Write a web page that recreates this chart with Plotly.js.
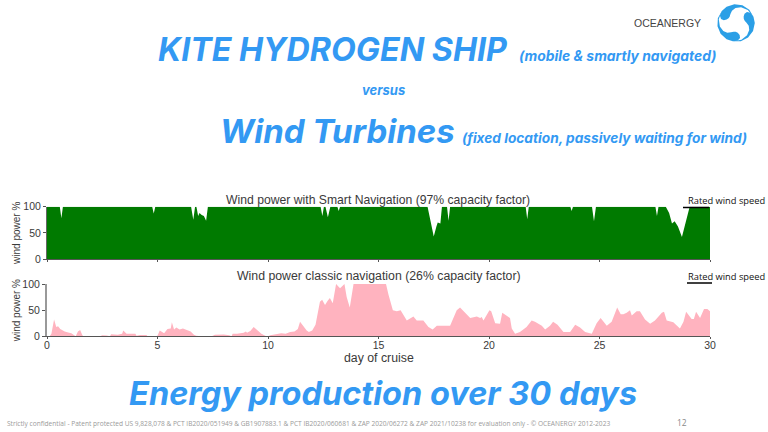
<!DOCTYPE html>
<html>
<head>
<meta charset="utf-8">
<script src="https://cdn.plot.ly/plotly-3.0.1.min.js"></script>
<style>html,body{margin:0;padding:0;background:#fff}#c{width:768px;height:432px}</style>
</head>
<body>
<div id="c"></div>
<script>
const greenDays = [0,0.58,0.65,0.72,4.76,4.83,4.9,6.52,6.62,6.7,6.76,6.84,6.9,7.0,7.1,7.2,7.28,12.38,12.46,12.53,12.6,12.71,12.82,13.14,13.2,13.26,17.22,17.35,17.5,17.62,17.68,17.8,17.87,18.1,18.17,18.24,21.66,21.73,21.8,23.68,23.74,23.8,24.66,24.75,24.84,27.53,27.6,27.67,27.75,28.0,28.15,28.28,28.4,28.55,28.73,28.88,29.0,29.08,30];
const greenPower = [100,100,78,100,100,87,100,100,75,100,100,82,88,84,82,73,100,100,82,100,100,80,100,100,92,100,100,72,43,62,70,68,100,100,73,100,100,76,100,100,92,100,100,72,100,100,82,100,100,100,88,68,72,62,42,68,90,100,100];
const pinkDays = [0,0.12,0.2,0.32,0.42,0.5,0.6,0.8,1,1.1,1.2,1.3,1.4,1.5,1.6,1.65,2.4,2.5,2.7,2.8,2.85,2.9,3.2,3.4,3.45,3.6,3.9,4,4.05,4.2,4.5,4.55,4.9,5,5.1,5.3,5.45,5.6,5.65,5.75,5.85,6,6.15,6.3,6.5,6.65,6.75,7,7.45,7.6,8,8.25,8.35,8.4,8.6,8.9,9,9.05,9.2,9.35,9.5,9.7,9.9,10,10.1,10.3,10.6,10.8,11,11.2,11.35,11.45,11.6,11.75,11.85,12,12.15,12.35,12.45,12.58,12.7,12.8,12.93,13.08,13.26,13.46,13.56,13.7,13.87,15.34,15.45,15.65,15.83,16,16.28,16.58,16.73,17.03,17.26,17.45,17.64,18.24,18.54,18.69,18.92,19.15,19.45,19.6,19.67,19.75,20.02,20.1,20.28,20.5,20.6,20.8,20.95,21.03,21.18,21.4,21.7,21.93,22.08,22.39,22.54,22.76,22.9,23.1,23.37,23.67,23.9,24.12,24.35,24.65,24.87,25.05,25.33,25.55,25.7,25.8,25.96,26.08,26.23,26.38,26.46,26.68,26.83,27.06,27.29,27.51,27.82,27.92,28.04,28.34,28.64,28.8,28.92,29.17,29.27,29.37,29.55,29.73,29.88,30];
const pinkPower = [0,0,5,32,18,19,14,9,7,6,3,0,9,12,2,0,0,2,1.5,0,0,4,3,5,11,5,4,5,1,2.5,2.5,0,0,1,11,6,14,15,27,13,17,13,15,12,9,3,1,0,0,3,3.5,2,0,5,5,7,9,7,10,18,13,5,0.5,0,2,4,6,5,8,9,14,28,20,11,8,11,22,66,70,60,68,73,63,100,92,100,75,55,100,100,80,50,48,50,30,38,30,30,18,13,20,20,50,55,45,35,38,35,37,30,50,48,25,24,45,40,35,15,5,8,18,30,28,20,13,20,28,22,8,8,22,17,8,5,25,35,20,28,45,55,42,42,45,50,40,48,48,32,24,30,45,47,30,27,15,28,47,33,33,47,35,52,52,48];
const dayTicks = [0,5,10,15,20,25,30];
const powerTicks = [0,50,100];

const W = 768, H = 432;
const px = x => x / W, py = y => 1 - y / H;
const BLUE = '#3399f3', TXT = '#3a3a3a';
const SANS = 'Liberation Sans, Arial, sans-serif';
const HEAD = 'Inter, Lato, sans-serif';
const CAL = 'Open Sans, sans-serif';
function label(text, x, y, size, color, family, anchor, extra) {
  return Object.assign({text, x: px(x), y: py(y), xref: 'paper', yref: 'paper', xanchor: anchor || 'left', yanchor: 'middle',
    showarrow: false, font: {size, color, family}, borderpad: 0, borderwidth: 0}, extra || {});
}
const annotations = [
  label('<b><i>KITE HYDROGEN SHIP</i></b>', 158, 50, 32.2, BLUE, HEAD),
  label('<b><i>(mobile &amp; smartly navigated)</i></b>', 519, 56, 13.9, BLUE, HEAD),
  label('<b><i>versus</i></b>', 362, 90, 13, BLUE, HEAD),
  label('<b><i>Wind Turbines</i></b>', 220, 131, 33, BLUE, HEAD),
  label('<b><i>(fixed location, passively waiting for wind)</i></b>', 462, 138, 13.7, BLUE, HEAD),
  label('<b><i>Energy production over 30 days</i></b>', 129, 393, 32.5, BLUE, HEAD),
  label('OCEANERGY', 634, 23, 10.5, '#444', SANS),
  label('Wind power with Smart Navigation (97% capacity factor)', 226, 199.5, 12.2, TXT, SANS),
  label('Wind power classic navigation (26% capacity factor)', 237, 276, 12.3, TXT, SANS),
  label('day of cruise', 379, 358, 12.3, TXT, SANS, 'center'),
  label('Rated wind speed', 688, 200.5, 9.3, '#111', CAL),
  label('Rated wind speed', 688, 276.5, 9.3, '#111', CAL),
  label('Strictly confidential - Patent protected US 9,828,078 &amp; PCT IB2020/051949 &amp; GB1907883.1 &amp; PCT IB2020/060681 &amp; ZAP 2020/06272 &amp; ZAP 2021/10238 for evaluation only - © OCEANERGY 2012-2023', 7, 423.5, 6.6, '#9a9a9a', CAL),
  label('12', 677, 422, 8.5, '#8a8a8a', CAL)
];
function blade(rot) {
  const P = (r, a) => {
    const t = (a + rot) * Math.PI / 180;
    return (r * Math.cos(t)).toFixed(2) + ',' + (r * Math.sin(t)).toFixed(2);
  };
  const outline = [[18.5,20],[18.8,45],[18.8,70],[18.8,95],[18.8,120],[18.6,140],[17.8,155],[15.5,165],[12.5,167],[10,160],[8.8,148],[9,135],[10.5,122],[13,108],[15,92],[16.5,72],[17.6,48]];
  return outline.map((p, i) => (i ? 'L' : 'M') + P(p[0], p[1])).join(' ') + ' Z';
}
const logo = [0, -120, -240].map(r => ({type: 'path', xref: 'paper', yref: 'paper', xsizemode: 'pixel', ysizemode: 'pixel',
  xanchor: px(736), yanchor: py(23), path: blade(r), fillcolor: '#2b9fe6', line: {width: 0}}));
const rules = [
  {type: 'line', xref: 'paper', yref: 'paper', x0: px(683), x1: px(709), y0: py(207.5), y1: py(207.5), line: {color: '#000', width: 1.5}},
  {type: 'line', xref: 'paper', yref: 'paper', x0: px(687), x1: px(712), y0: py(283), y1: py(283), line: {color: '#000', width: 1.5}}
];
const traces = [
  {x: greenDays, y: greenPower, type: 'scatter', mode: 'lines', fill: 'tozeroy', fillcolor: '#007a00', line: {width: 0, color: '#007a00'}, xaxis: 'x', yaxis: 'y', hoverinfo: 'skip'},
  {x: pinkDays, y: pinkPower, type: 'scatter', mode: 'lines', fill: 'tozeroy', fillcolor: '#ffb3bf', line: {width: 0, color: '#ffb3bf'}, xaxis: 'x2', yaxis: 'y2', hoverinfo: 'skip'}
];
const yBase = {range: [0, 100], tickvals: powerTicks, ticks: 'outside', ticklen: 3, tickcolor: '#555', showgrid: false, zeroline: false,
  showline: true, tickfont: {size: 10.5, color: TXT, family: SANS},
  title: {text: 'wind power %', standoff: 0, font: {size: 10, color: TXT, family: 'Liberation Sans Narrow, ' + SANS}}};
const xBase = {range: [0, 30], tickvals: dayTicks, ticks: 'outside', ticklen: 2, tickcolor: '#555', showgrid: false, zeroline: false, showline: true, linecolor: '#555'};
const layout = {
  width: W, height: H, showlegend: false, paper_bgcolor: '#fff', plot_bgcolor: '#fff',
  margin: {l: 0, r: 0, t: 0, b: 0, pad: 0},
  xaxis: Object.assign({}, xBase, {domain: [px(47), px(710)], anchor: 'y', showticklabels: false}),
  yaxis: Object.assign({}, yBase, {domain: [py(259), py(206.7)], anchor: 'x', linecolor: '#666', linewidth: 1}),
  xaxis2: Object.assign({}, xBase, {domain: [px(47), px(710)], anchor: 'y2', ticklabelstandoff: -3, tickfont: {size: 10.5, color: TXT, family: SANS}}),
  yaxis2: Object.assign({}, yBase, {domain: [py(336.3), py(284)], anchor: 'x2', linecolor: '#999', linewidth: 2}),
  annotations, shapes: logo.concat(rules)
};
Plotly.newPlot('c', traces, layout, {staticPlot: true, displayModeBar: false});
</script>
</body>
</html>
